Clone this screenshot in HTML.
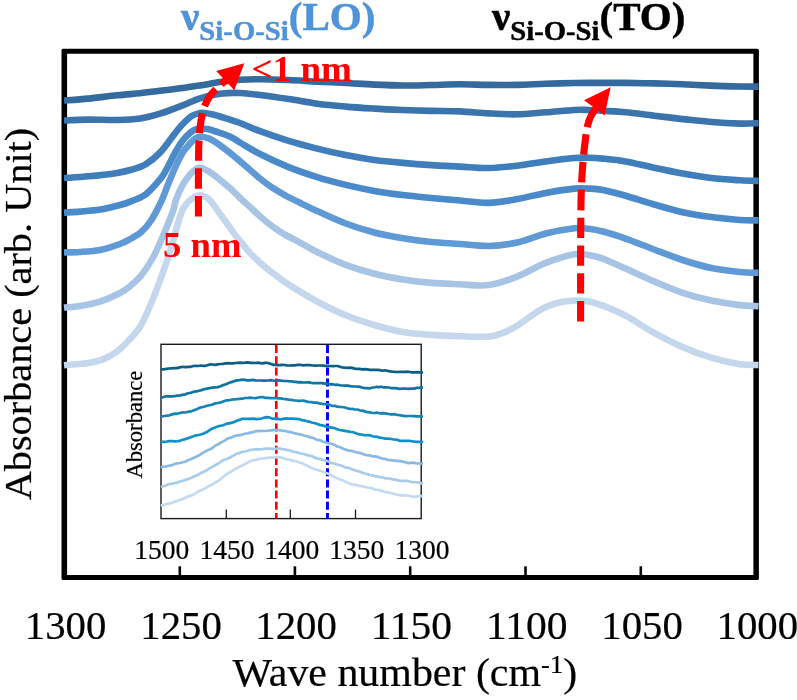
<!DOCTYPE html>
<html lang="en"><head><meta charset="utf-8"><title>FTIR absorbance</title>
<style>html,body{margin:0;padding:0;background:#fff}svg{display:block}text{font-family:"Liberation Serif","DejaVu Serif",serif;stroke-width:0.22px}</style></head><body>
<svg width="797" height="700" viewBox="0 0 797 700">
<rect width="797" height="700" fill="#fff"/>
<path d="M63,48.7 H757.4 Q758.9,48.7 758.9,50.2 V578.5 Q758.9,580 757.4,580 H63 Q61.5,580 61.5,578.5 V50.2 Q61.5,48.7 63,48.7 Z M67.1,53.8 V575 H753.4 V53.8 Z" fill="#000" fill-rule="evenodd"/>
<line x1="179.8" y1="577" x2="179.8" y2="566.3" stroke="#000" stroke-width="2.6"/>
<line x1="294.9" y1="577" x2="294.9" y2="566.3" stroke="#000" stroke-width="2.6"/>
<line x1="410.2" y1="577" x2="410.2" y2="566.3" stroke="#000" stroke-width="2.6"/>
<line x1="525.5" y1="577" x2="525.5" y2="566.3" stroke="#000" stroke-width="2.6"/>
<line x1="640.8" y1="577" x2="640.8" y2="566.3" stroke="#000" stroke-width="2.6"/>
<g>
<rect x="161" y="344.3" width="260.2" height="174.3" fill="none" stroke="#1a1a1a" stroke-width="1.4"/>
<line x1="226.3" y1="518.6" x2="226.3" y2="509.6" stroke="#1a1a1a" stroke-width="1.3"/>
<line x1="290.3" y1="518.6" x2="290.3" y2="509.6" stroke="#1a1a1a" stroke-width="1.3"/>
<line x1="355.5" y1="518.6" x2="355.5" y2="509.6" stroke="#1a1a1a" stroke-width="1.3"/>
<line x1="276.3" y1="345" x2="276.3" y2="518.6" stroke="#ff0000" stroke-width="2.6" stroke-dasharray="8 3.2"/>
<line x1="327.5" y1="345" x2="327.5" y2="518.6" stroke="#0000ff" stroke-width="3" stroke-dasharray="8 3.2"/>
<path d="M160.8,505.8 L162.3,505.2 L164.3,505.0 L166.8,504.0 L169.4,503.5 L172.2,502.7 L174.8,501.6 L177.1,501.1 L180.0,499.8 L182.7,499.0 L185.4,497.7 L188.0,496.5 L190.7,495.6 L193.4,494.7 L196.1,492.9 L198.8,491.2 L201.5,490.0 L204.2,488.9 L206.9,487.4 L209.6,485.7 L212.4,484.6 L215.1,482.5 L217.8,481.2 L220.5,479.1 L223.2,476.9 L226.0,474.7 L228.7,472.8 L231.4,471.5 L234.1,469.6 L236.8,468.2 L239.5,466.9 L242.2,465.4 L244.9,464.2 L247.6,462.6 L250.3,461.3 L253.1,460.3 L255.8,459.9 L258.5,459.1 L261.3,458.5 L264.2,458.3 L267.0,457.9 L269.6,457.6 L272.0,457.7 L274.7,457.5 L276.8,456.9 L280.2,457.4 L282.2,457.8 L284.6,458.7 L287.3,459.4 L290.2,459.7 L293.0,460.9 L295.7,461.1 L298.1,461.8 L300.0,462.7 L302.8,463.4 L304.2,464.5 L307.1,465.6 L309.0,466.7 L311.3,467.8 L313.8,468.7 L316.5,469.8 L319.3,470.4 L322.1,471.6 L324.9,472.6 L327.5,473.6 L330.0,474.5 L332.4,475.9 L334.8,477.3 L337.2,478.2 L339.7,479.4 L342.2,480.0 L344.9,481.4 L347.8,482.6 L350.0,483.7 L352.3,484.4 L354.7,484.7 L357.2,485.2 L359.7,486.1 L362.2,486.2 L364.8,487.0 L367.3,487.5 L369.9,487.9 L372.4,488.4 L374.9,489.5 L377.4,489.9 L379.9,490.4 L382.5,491.1 L385.0,492.1 L387.6,492.2 L390.1,492.8 L392.6,493.4 L395.0,494.3 L397.4,494.8 L399.8,495.3 L402.0,495.2 L405.1,495.5 L408.2,495.7 L411.2,496.3 L414.2,496.8 L416.9,496.4 L419.4,496.2 L421.4,496.2 L423.0,496.2" fill="none" stroke="#c2daf2" stroke-width="2.7" stroke-linejoin="round"/>
<path d="M160.8,486.8 L162.3,486.6 L164.3,485.9 L166.8,485.0 L169.4,483.9 L172.2,483.6 L174.8,483.0 L177.1,482.6 L180.0,481.5 L182.7,480.9 L185.4,479.7 L188.0,479.1 L190.7,478.1 L193.4,476.8 L196.1,475.6 L198.8,474.4 L201.5,472.7 L204.2,471.5 L206.9,470.2 L209.6,468.3 L212.4,466.9 L215.1,465.3 L217.8,463.9 L220.5,462.0 L223.2,460.2 L226.0,459.3 L228.7,458.2 L231.4,456.7 L234.1,455.1 L236.8,453.8 L239.5,452.9 L242.2,451.8 L244.9,451.5 L247.6,450.8 L250.3,449.9 L253.1,449.7 L255.8,449.2 L258.5,449.3 L261.2,449.3 L263.9,448.8 L266.6,448.7 L269.3,448.6 L272.0,448.8 L274.6,449.1 L277.1,448.5 L279.6,448.7 L282.4,449.2 L285.6,449.6 L287.6,450.2 L289.9,450.4 L292.2,451.4 L294.7,452.0 L297.2,452.3 L299.7,453.3 L302.2,453.8 L304.7,454.3 L307.1,455.1 L309.7,455.6 L312.3,456.3 L314.8,457.6 L317.4,458.5 L319.9,458.8 L322.4,460.0 L325.0,460.3 L327.5,461.1 L330.0,462.5 L332.4,463.3 L334.8,463.8 L337.2,464.5 L339.7,465.3 L342.2,465.9 L344.9,467.3 L347.8,467.7 L350.0,468.4 L352.3,469.4 L354.7,470.0 L357.2,471.2 L359.7,471.5 L362.2,472.7 L364.8,473.5 L367.3,474.1 L369.9,475.0 L372.4,475.3 L374.9,476.1 L377.4,476.7 L379.9,477.1 L382.5,477.5 L385.0,478.1 L387.6,478.4 L390.1,478.5 L392.6,479.4 L395.0,479.6 L397.4,480.1 L399.8,480.8 L402.0,480.8 L405.1,480.9 L408.2,481.2 L411.2,481.9 L414.2,482.2 L416.9,482.3 L419.4,482.6 L421.4,483.3 L423.0,483.1" fill="none" stroke="#a9cbec" stroke-width="2.7" stroke-linejoin="round"/>
<path d="M160.8,467.0 L162.3,466.9 L164.3,466.6 L166.8,466.3 L169.4,465.7 L172.2,465.2 L174.8,463.9 L177.1,463.3 L180.0,463.0 L182.7,462.3 L185.4,461.7 L188.0,460.2 L190.7,459.2 L193.4,457.9 L196.1,456.8 L198.8,455.5 L201.5,453.6 L204.2,452.1 L206.9,450.6 L209.6,449.5 L212.4,448.0 L215.1,445.8 L217.8,444.6 L220.5,442.7 L223.2,441.4 L226.0,439.7 L228.7,438.1 L231.4,437.6 L234.1,436.3 L236.8,435.3 L239.5,435.2 L242.2,434.7 L244.9,433.7 L247.7,433.4 L250.5,432.6 L253.3,432.1 L256.0,431.2 L258.5,431.2 L261.3,430.9 L263.7,431.0 L266.3,431.0 L269.3,430.5 L271.3,430.3 L273.4,430.1 L275.6,430.0 L278.0,430.0 L280.4,430.3 L283.0,430.9 L285.6,430.9 L287.8,431.7 L290.0,432.1 L292.4,432.5 L294.9,433.4 L297.3,433.9 L299.8,434.3 L302.3,434.9 L304.7,435.8 L307.1,436.0 L309.7,437.3 L312.3,437.6 L314.8,438.8 L317.4,439.9 L319.9,440.2 L322.4,441.5 L325.0,442.2 L327.5,443.1 L330.0,443.5 L332.4,444.1 L334.8,445.0 L337.2,446.5 L339.7,447.0 L342.2,448.2 L344.9,449.4 L347.8,450.4 L350.0,450.6 L352.3,451.0 L354.7,451.7 L357.2,452.6 L359.7,452.8 L362.2,453.7 L364.8,454.6 L367.3,455.3 L369.9,455.3 L372.4,456.4 L374.9,456.4 L377.4,456.9 L379.9,457.7 L382.5,458.6 L385.0,458.9 L387.6,459.8 L390.1,460.1 L392.6,460.4 L395.0,460.7 L397.4,460.9 L399.8,461.1 L402.0,461.4 L405.1,462.2 L408.2,463.1 L411.2,462.8 L414.2,462.7 L416.9,463.5 L419.4,463.5 L421.4,463.5 L423.0,463.4" fill="none" stroke="#8ab9e3" stroke-width="2.7" stroke-linejoin="round"/>
<path d="M160.8,442.3 L162.3,441.9 L164.3,441.8 L166.8,441.5 L169.4,441.1 L172.2,441.1 L174.8,441.4 L177.1,441.2 L180.0,440.8 L182.7,439.8 L185.4,439.1 L188.0,438.2 L190.7,437.2 L193.4,436.2 L196.1,435.3 L198.8,435.0 L201.5,434.2 L204.2,433.3 L206.9,432.1 L209.6,430.2 L212.4,428.5 L215.1,427.4 L217.8,426.4 L220.5,425.8 L223.2,425.2 L226.0,423.9 L228.7,423.4 L231.4,422.9 L234.1,422.0 L236.8,420.7 L239.5,419.9 L242.2,418.8 L244.9,418.8 L247.7,418.9 L250.6,418.8 L253.5,418.6 L256.1,419.1 L258.5,419.0 L261.6,418.5 L264.0,417.8 L266.6,417.1 L268.6,417.3 L270.6,418.0 L273.0,418.7 L276.1,418.9 L278.1,418.9 L280.6,419.3 L283.2,418.8 L285.9,418.4 L288.7,418.7 L291.4,418.5 L293.9,418.7 L296.0,418.8 L299.2,419.1 L301.5,420.1 L303.9,420.4 L307.1,421.3 L309.2,421.6 L311.5,422.5 L314.1,423.0 L316.7,423.7 L319.4,424.8 L322.2,425.3 L324.9,426.1 L327.5,427.2 L330.0,427.3 L332.4,427.6 L334.8,428.2 L337.2,429.3 L339.7,430.0 L342.2,430.3 L344.9,430.8 L347.8,431.3 L350.0,431.9 L352.3,432.0 L354.7,432.8 L357.2,433.7 L359.7,434.4 L362.2,434.7 L364.8,435.3 L367.3,435.0 L369.9,435.3 L372.4,436.2 L374.9,436.7 L377.4,436.9 L379.9,437.7 L382.5,438.0 L385.0,438.6 L387.6,438.7 L390.1,438.8 L392.6,439.3 L395.0,439.5 L397.4,439.9 L399.8,440.8 L402.0,440.9 L405.1,440.8 L408.2,440.8 L411.2,441.0 L414.2,441.7 L416.9,441.8 L419.4,441.8 L421.4,441.6 L423.0,442.3" fill="none" stroke="#0f8fcb" stroke-width="2.7" stroke-linejoin="round"/>
<path d="M160.8,416.6 L162.3,416.4 L164.3,416.0 L166.8,415.7 L169.4,415.3 L172.2,414.4 L174.8,413.6 L177.1,413.8 L180.0,413.0 L182.7,412.4 L185.4,412.5 L188.0,411.8 L190.7,411.4 L193.4,410.4 L196.1,409.5 L198.8,408.1 L201.5,407.3 L204.2,406.7 L206.9,405.8 L209.6,405.2 L212.4,404.6 L215.1,403.4 L217.8,403.0 L220.5,402.4 L223.2,401.4 L226.0,400.4 L228.7,400.3 L231.4,399.7 L234.1,399.4 L236.8,399.2 L239.5,398.8 L242.2,398.7 L244.9,398.0 L247.5,398.0 L250.1,397.7 L252.8,398.0 L255.5,398.1 L258.5,397.5 L260.7,397.2 L263.1,397.2 L265.4,397.9 L267.9,397.9 L270.5,398.1 L273.2,398.0 L276.1,398.2 L278.3,398.3 L280.7,398.4 L283.3,398.8 L286.0,399.1 L288.7,399.6 L291.3,399.8 L293.9,400.3 L296.2,400.5 L298.3,400.8 L300.0,400.8 L303.1,400.5 L304.4,400.9 L307.1,401.6 L309.0,402.0 L311.3,402.1 L313.8,402.6 L316.5,402.6 L319.3,403.4 L322.1,403.9 L324.9,404.1 L327.5,404.2 L330.0,405.1 L332.4,406.0 L334.8,405.8 L337.2,406.6 L339.7,406.9 L342.2,407.0 L344.9,407.5 L347.8,408.4 L350.0,409.0 L352.3,408.9 L354.7,409.5 L357.2,409.5 L359.7,410.3 L362.2,410.6 L364.8,411.4 L367.3,412.2 L369.9,412.3 L372.4,413.0 L374.9,412.9 L377.4,412.7 L379.9,413.3 L382.5,413.1 L385.0,413.4 L387.6,413.8 L390.1,414.3 L392.6,414.3 L395.0,414.2 L397.4,415.0 L399.8,415.1 L402.0,415.7 L405.1,416.1 L408.2,416.0 L411.2,416.0 L414.2,416.1 L416.9,416.3 L419.4,416.4 L421.4,416.4 L423.0,416.5" fill="none" stroke="#1683b8" stroke-width="2.7" stroke-linejoin="round"/>
<path d="M160.8,397.4 L162.3,397.5 L164.3,396.7 L166.8,396.2 L169.4,396.4 L172.2,396.4 L174.8,396.2 L177.1,395.6 L180.0,395.3 L182.7,394.8 L185.4,394.3 L188.0,393.3 L190.7,392.7 L193.4,391.9 L196.1,391.3 L198.8,390.8 L201.5,390.1 L204.2,389.2 L206.9,388.6 L209.6,388.2 L212.4,387.7 L215.1,387.3 L217.8,387.1 L220.5,386.2 L223.2,385.1 L226.0,384.3 L228.7,383.1 L231.4,382.1 L234.1,381.2 L236.8,380.4 L239.5,380.1 L242.2,379.7 L244.9,379.8 L247.5,380.3 L250.1,380.3 L252.8,379.9 L255.5,380.4 L258.5,380.5 L260.7,380.5 L263.1,380.7 L265.4,380.6 L267.9,380.5 L270.5,380.1 L273.2,380.5 L276.1,380.8 L278.3,380.3 L280.7,380.7 L283.3,380.9 L286.0,381.0 L288.7,381.2 L291.3,381.3 L293.9,381.9 L296.2,381.9 L298.3,382.3 L300.0,382.1 L303.1,382.5 L304.4,382.5 L307.1,382.3 L309.0,382.4 L311.3,382.8 L313.8,383.1 L316.5,383.1 L319.3,383.0 L322.1,383.2 L324.9,383.7 L327.5,383.6 L330.0,384.3 L332.5,384.2 L335.1,384.8 L337.6,384.7 L340.1,385.3 L342.6,385.5 L345.2,385.6 L347.8,385.7 L350.2,386.1 L352.8,386.4 L355.5,386.5 L358.2,386.7 L360.9,387.2 L363.4,388.0 L365.7,388.2 L367.8,388.0 L369.5,388.5 L371.9,387.8 L374.9,387.2 L376.6,386.8 L378.6,387.1 L380.9,386.8 L383.4,387.3 L386.1,387.4 L388.9,387.5 L391.7,388.2 L394.5,388.1 L397.2,388.4 L399.7,389.0 L402.0,388.7 L405.1,388.5 L408.2,388.9 L411.2,388.6 L414.2,388.6 L416.9,387.9 L419.4,387.8 L421.4,387.4 L423.0,387.7" fill="none" stroke="#0e74a2" stroke-width="2.7" stroke-linejoin="round"/>
<path d="M160.8,369.0 L162.3,369.3 L164.1,369.3 L166.2,368.8 L168.7,368.5 L171.3,368.3 L174.1,368.2 L176.9,368.1 L179.8,367.4 L182.7,366.8 L185.5,367.1 L188.2,366.8 L190.7,366.8 L193.3,366.0 L195.8,365.9 L198.3,366.0 L200.8,365.5 L203.2,365.8 L205.6,365.8 L208.1,365.0 L210.5,364.4 L212.9,364.5 L215.3,364.8 L217.8,364.4 L220.3,364.0 L222.8,363.9 L225.3,363.4 L227.9,363.2 L230.4,363.3 L232.9,363.3 L235.4,363.0 L237.9,362.8 L240.3,362.7 L242.6,362.8 L244.9,362.6 L247.6,362.3 L250.3,362.8 L253.0,362.9 L255.6,363.0 L258.1,362.6 L260.5,363.2 L262.7,363.4 L264.8,362.9 L266.6,362.8 L269.5,363.4 L271.2,364.0 L273.0,364.8 L276.1,364.8 L277.9,365.1 L279.9,365.2 L282.1,364.9 L284.5,365.0 L286.9,365.4 L289.5,365.5 L292.1,365.3 L294.8,365.3 L297.4,364.9 L300.0,364.8 L302.4,365.3 L304.9,365.2 L307.4,365.0 L310.0,365.2 L312.7,365.5 L315.3,365.7 L317.9,365.5 L320.4,365.5 L322.9,365.6 L325.3,365.9 L327.5,366.0 L330.3,366.0 L332.9,366.2 L335.3,366.0 L337.7,366.0 L340.0,366.7 L342.4,367.5 L345.0,367.7 L347.8,367.8 L350.0,367.6 L352.3,367.9 L354.7,368.6 L357.2,368.9 L359.7,368.9 L362.2,369.3 L364.8,369.1 L367.3,369.3 L369.9,369.8 L372.4,369.9 L374.9,369.9 L377.4,369.8 L379.9,370.1 L382.5,370.8 L385.0,370.3 L387.6,370.9 L390.1,371.3 L392.6,371.6 L395.0,371.8 L397.4,372.0 L399.8,371.9 L402.0,371.9 L405.1,371.9 L408.2,371.7 L411.2,372.3 L414.2,372.4 L416.9,372.2 L419.4,372.4 L421.4,372.5 L423.0,372.4" fill="none" stroke="#0b5e86" stroke-width="2.7" stroke-linejoin="round"/>
</g>
<path d="M64.0,365.2 C68.1,364.8 82.1,363.9 88.6,362.9 C95.1,361.9 98.2,361.3 102.9,359.4 C107.7,357.5 112.7,354.6 117.1,351.4 C121.5,348.2 125.1,344.2 129.0,340.0 C132.9,335.8 136.9,332.0 140.5,326.0 C144.1,320.0 147.5,312.0 150.9,304.0 C154.3,296.0 157.7,287.3 161.0,278.0 C164.3,268.7 168.0,257.7 171.0,248.0 C174.0,238.3 177.0,226.5 179.0,220.0 C181.0,213.5 181.5,212.0 183.0,209.0 C184.5,206.0 186.1,204.1 188.1,202.0 C190.1,199.9 192.7,197.7 194.7,196.6 C196.7,195.5 198.4,195.3 200.0,195.3 C201.6,195.3 202.9,195.9 204.3,196.5 C205.7,197.1 206.9,197.5 208.6,199.0 C210.3,200.5 212.2,202.9 214.3,205.7 C216.4,208.5 219.0,212.4 221.4,215.7 C223.8,219.0 226.2,222.4 228.6,225.7 C231.0,229.0 233.3,232.6 235.7,235.7 C238.1,238.8 240.5,241.4 242.9,244.3 C245.3,247.2 247.6,250.3 250.0,252.9 C252.4,255.5 254.7,257.8 257.1,260.0 C259.5,262.2 261.9,264.4 264.3,266.4 C266.7,268.4 269.0,270.3 271.4,272.1 C273.8,273.9 275.7,275.2 278.6,277.3 C281.5,279.4 282.2,280.5 288.6,284.5 C295.0,288.5 307.6,296.4 317.1,301.5 C326.6,306.6 336.2,311.4 345.7,315.3 C355.2,319.2 364.8,322.2 374.3,325.0 C383.8,327.8 393.4,330.4 402.9,332.0 C412.4,333.6 421.9,334.2 431.4,334.9 C440.9,335.6 450.5,335.9 460.0,336.2 C469.5,336.5 481.5,337.2 488.6,336.6 C495.8,336.1 498.1,334.7 502.9,332.9 C507.6,331.1 512.4,328.6 517.1,325.7 C521.9,322.8 526.6,318.8 531.4,315.7 C536.2,312.6 540.9,309.3 545.7,307.1 C550.5,304.9 555.2,303.4 560.0,302.3 C564.8,301.2 569.5,300.8 574.3,300.6 C579.1,300.5 583.8,300.5 588.6,301.4 C593.4,302.2 596.7,303.3 602.9,305.7 C609.1,308.1 617.1,311.2 625.6,315.7 C634.1,320.2 644.6,327.7 654.1,332.9 C663.6,338.1 673.2,343.0 682.7,347.1 C692.2,351.2 701.8,354.8 711.3,357.7 C720.8,360.6 732.0,363.1 739.9,364.3 C747.8,365.5 755.4,364.9 758.5,365.0" fill="none" stroke="#c5d7ed" stroke-width="6.6" stroke-linejoin="round"/>
<path d="M64.0,307.6 C66.7,307.3 74.0,307.0 80.0,306.0 C86.0,305.0 93.3,303.8 100.0,301.6 C106.7,299.4 115.0,295.6 120.0,293.0 C125.0,290.4 126.7,289.0 130.2,286.0 C133.8,283.0 137.8,279.7 141.5,275.0 C145.2,270.3 149.2,264.5 152.8,258.0 C156.3,251.5 159.6,243.8 163.0,236.0 C166.4,228.2 170.8,217.0 173.0,211.0 C175.2,205.0 174.2,204.4 175.9,200.0 C177.6,195.6 180.6,188.6 183.0,184.3 C185.4,180.0 188.0,176.8 190.1,174.3 C192.2,171.8 194.1,170.4 195.6,169.3 C197.0,168.2 197.5,168.0 198.7,167.9 C199.9,167.8 201.4,167.9 203.0,168.5 C204.6,169.1 206.5,170.1 208.6,171.4 C210.7,172.7 212.4,173.8 215.7,176.4 C219.0,179.0 225.3,184.2 228.6,187.1 C231.9,190.0 233.3,191.3 235.7,193.6 C238.1,195.9 240.5,198.4 242.9,200.7 C245.3,202.9 247.6,204.9 250.0,207.1 C252.4,209.2 254.7,211.4 257.1,213.6 C259.5,215.8 261.9,218.0 264.3,220.0 C266.7,222.0 269.0,223.9 271.4,225.7 C273.8,227.5 276.2,229.1 278.6,230.7 C281.0,232.2 282.1,233.0 285.7,235.0 C289.3,237.0 294.8,239.8 300.0,242.6 C305.2,245.4 309.5,248.3 317.1,252.0 C324.7,255.7 336.2,261.2 345.7,264.8 C355.2,268.4 364.8,271.3 374.3,273.7 C383.8,276.1 393.4,277.9 402.9,279.4 C412.4,280.9 421.9,282.1 431.4,282.9 C440.9,283.7 450.5,283.9 460.0,284.3 C469.5,284.7 479.1,286.4 488.6,285.1 C498.1,283.8 507.6,280.3 517.1,276.6 C526.6,272.9 536.2,266.6 545.7,262.9 C555.2,259.2 567.1,255.6 574.3,254.3 C581.4,253.0 583.8,254.2 588.6,254.9 C593.4,255.6 596.7,256.3 602.9,258.6 C609.1,260.9 617.1,264.8 625.6,268.6 C634.1,272.4 644.6,277.3 654.1,281.4 C663.6,285.4 673.2,289.7 682.7,292.9 C692.2,296.1 701.8,298.6 711.3,300.6 C720.8,302.6 732.0,304.2 739.9,305.1 C747.8,306.0 755.4,306.0 758.5,306.2" fill="none" stroke="#a8c4e5" stroke-width="6.6" stroke-linejoin="round"/>
<path d="M64.0,252.5 C66.7,252.4 74.0,252.4 80.0,252.0 C86.0,251.6 93.3,251.3 100.0,250.0 C106.7,248.7 115.0,245.8 120.0,244.0 C125.0,242.2 126.7,241.0 130.2,239.0 C133.7,237.0 137.8,235.0 141.2,232.0 C144.6,229.0 147.4,226.0 150.7,221.0 C154.0,216.0 158.1,208.1 161.0,202.0 C163.9,195.9 165.7,190.1 168.1,184.3 C170.5,178.5 172.9,172.3 175.3,167.1 C177.7,161.9 180.0,156.8 182.4,152.9 C184.8,149.1 187.3,146.4 189.5,144.0 C191.7,141.6 193.4,139.8 195.3,138.6 C197.2,137.4 198.8,136.7 201.0,136.7 C203.2,136.7 206.2,137.5 208.6,138.4 C211.0,139.3 212.1,139.8 215.7,142.2 C219.3,144.6 225.1,149.0 230.0,152.9 C234.9,156.8 240.0,161.2 245.0,165.5 C250.0,169.8 255.6,174.9 260.0,178.5 C264.4,182.1 267.1,184.2 271.4,187.1 C275.7,190.0 280.9,193.1 285.7,195.7 C290.5,198.3 294.8,200.2 300.0,202.8 C305.2,205.4 309.5,207.6 317.1,211.0 C324.7,214.4 336.2,219.9 345.7,223.5 C355.2,227.1 364.8,230.0 374.3,232.5 C383.8,235.0 393.4,236.7 402.9,238.3 C412.4,239.9 421.9,241.1 431.4,242.0 C440.9,242.9 450.5,243.3 460.0,244.0 C469.5,244.7 479.1,246.2 488.6,246.0 C498.1,245.8 507.6,244.6 517.1,242.5 C526.6,240.4 536.2,235.9 545.7,233.5 C555.2,231.1 567.1,229.0 574.3,228.2 C581.4,227.4 583.8,228.2 588.6,228.8 C593.4,229.4 596.7,229.9 602.9,231.5 C609.1,233.1 617.1,235.6 625.6,238.6 C634.1,241.6 644.6,245.9 654.1,249.5 C663.6,253.1 673.2,256.9 682.7,260.0 C692.2,263.1 701.8,266.0 711.3,268.0 C720.8,270.0 732.0,271.2 739.9,272.0 C747.8,272.8 755.4,272.7 758.5,272.8" fill="none" stroke="#5f9ad6" stroke-width="6.6" stroke-linejoin="round"/>
<path d="M64.0,212.6 C66.7,212.4 74.0,212.1 80.0,211.6 C86.0,211.1 93.3,210.7 100.0,209.6 C106.7,208.5 115.0,206.3 120.0,205.0 C125.0,203.7 125.9,203.4 130.2,201.6 C134.4,199.8 140.6,198.1 145.7,194.3 C150.7,190.5 156.9,183.1 160.6,178.6 C164.3,174.1 165.3,171.4 167.7,167.1 C170.1,162.8 172.5,157.2 174.9,152.9 C177.3,148.6 179.6,144.6 182.0,141.4 C184.4,138.2 186.9,135.8 189.1,133.8 C191.3,131.8 193.3,130.5 195.2,129.6 C197.1,128.7 198.3,128.6 200.5,128.5 C202.7,128.4 206.1,128.8 208.6,129.3 C211.1,129.8 212.1,130.3 215.7,131.5 C219.3,132.7 225.9,134.7 230.0,136.5 C234.1,138.3 235.0,139.6 240.0,142.5 C245.0,145.4 251.9,149.9 260.0,154.0 C268.1,158.1 279.1,163.2 288.6,167.1 C298.1,170.9 307.6,174.1 317.1,177.1 C326.6,180.1 336.2,182.6 345.7,184.9 C355.2,187.2 364.8,189.2 374.3,190.9 C383.8,192.6 393.4,193.9 402.9,195.1 C412.4,196.3 421.9,197.1 431.4,198.0 C440.9,198.9 450.5,199.7 460.0,200.5 C469.5,201.3 479.1,203.1 488.6,202.9 C498.1,202.7 507.6,200.8 517.1,199.1 C526.6,197.4 536.2,194.7 545.7,192.9 C555.2,191.2 567.1,189.3 574.3,188.6 C581.4,187.9 583.8,188.4 588.6,188.6 C593.4,188.8 596.7,188.8 602.9,190.0 C609.1,191.2 617.1,193.3 625.6,195.7 C634.1,198.1 644.6,201.8 654.1,204.5 C663.6,207.2 673.2,210.1 682.7,212.2 C692.2,214.3 701.8,215.8 711.3,217.1 C720.8,218.4 732.0,219.4 739.9,220.0 C747.8,220.6 755.4,220.3 758.5,220.4" fill="none" stroke="#4a8acb" stroke-width="6.6" stroke-linejoin="round"/>
<path d="M64.0,178.0 C68.1,177.7 79.8,177.2 88.6,176.3 C97.4,175.5 110.2,174.0 117.1,172.9 C124.0,171.8 125.4,171.4 130.2,170.0 C134.9,168.6 140.5,167.3 145.6,164.3 C150.6,161.3 155.6,157.2 160.5,152.1 C165.4,147.0 171.2,138.1 174.8,133.6 C178.4,129.1 179.1,127.9 181.9,125.0 C184.7,122.1 188.5,118.0 191.6,116.0 C194.6,114.0 197.6,113.5 200.0,113.0 C202.4,112.5 204.0,113.0 206.0,113.2 C208.0,113.4 209.7,113.7 212.0,114.2 C214.3,114.8 215.3,115.0 220.0,116.5 C224.7,118.0 233.3,120.5 240.0,123.0 C246.7,125.5 251.9,128.2 260.0,131.2 C268.1,134.2 279.1,138.0 288.6,140.9 C298.1,143.8 307.6,146.2 317.1,148.6 C326.6,151.0 336.2,153.2 345.7,155.1 C355.2,157.0 364.8,158.7 374.3,160.0 C383.8,161.3 393.4,162.1 402.9,162.9 C412.4,163.8 421.9,164.5 431.4,165.1 C440.9,165.7 450.5,166.1 460.0,166.6 C469.5,167.1 479.1,168.2 488.6,168.0 C498.1,167.8 507.6,166.8 517.1,165.7 C526.6,164.6 536.2,162.7 545.7,161.4 C555.2,160.1 567.1,158.6 574.3,158.0 C581.4,157.4 583.8,157.6 588.6,157.7 C593.4,157.8 596.7,158.0 602.9,158.6 C609.1,159.2 617.1,159.9 625.6,161.4 C634.1,162.9 644.6,165.7 654.1,167.7 C663.6,169.7 673.2,171.7 682.7,173.4 C692.2,175.1 701.8,176.8 711.3,178.0 C720.8,179.2 732.0,179.8 739.9,180.3 C747.8,180.8 755.4,180.8 758.5,180.9" fill="none" stroke="#3f7dbb" stroke-width="6.6" stroke-linejoin="round"/>
<path d="M64.0,120.5 C68.1,120.3 79.8,119.7 88.6,119.6 C97.4,119.5 108.5,120.2 117.1,120.0 C125.7,119.8 132.8,119.6 140.0,118.5 C147.2,117.4 153.3,115.6 160.0,113.6 C166.7,111.6 173.3,109.0 180.0,106.4 C186.7,103.9 193.3,100.4 200.0,98.3 C206.7,96.2 213.3,94.7 220.0,93.8 C226.7,92.9 233.3,92.8 240.0,93.0 C246.7,93.2 251.9,94.0 260.0,95.0 C268.1,96.0 279.1,97.6 288.6,99.1 C298.1,100.5 307.6,102.5 317.1,103.7 C326.6,105.0 336.2,105.8 345.7,106.6 C355.2,107.4 364.8,108.0 374.3,108.6 C383.8,109.2 393.4,109.6 402.9,110.0 C412.4,110.4 421.9,110.7 431.4,110.9 C440.9,111.1 450.5,111.0 460.0,111.4 C469.5,111.8 479.1,112.9 488.6,113.4 C498.1,113.9 507.6,114.5 517.1,114.3 C526.6,114.1 536.2,113.0 545.7,112.3 C555.2,111.6 567.1,110.4 574.3,110.0 C581.4,109.6 583.8,109.9 588.6,110.0 C593.4,110.1 596.7,110.4 602.9,110.8 C609.1,111.2 617.1,111.5 625.6,112.3 C634.1,113.1 644.6,114.6 654.1,115.7 C663.6,116.8 673.2,118.0 682.7,119.1 C692.2,120.1 701.8,121.2 711.3,122.0 C720.8,122.8 732.0,123.4 739.9,123.6 C747.8,123.8 755.4,123.3 758.5,123.2" fill="none" stroke="#3b74ad" stroke-width="6.6" stroke-linejoin="round"/>
<path d="M64.0,100.5 C68.1,100.2 79.8,99.5 88.6,98.6 C97.4,97.7 108.5,96.2 117.1,95.3 C125.7,94.4 132.8,94.0 140.0,93.3 C147.2,92.5 153.3,91.6 160.0,90.8 C166.7,90.0 173.3,89.2 180.0,88.3 C186.7,87.4 193.3,86.6 200.0,85.6 C206.7,84.5 213.3,83.0 220.0,82.0 C226.7,81.0 233.3,80.3 240.0,79.8 C246.7,79.3 251.9,79.2 260.0,79.2 C268.1,79.2 279.1,79.6 288.6,80.0 C298.1,80.4 307.6,81.1 317.1,81.6 C326.6,82.1 336.2,82.5 345.7,83.0 C355.2,83.5 364.8,84.2 374.3,84.6 C383.8,85.0 393.4,85.4 402.9,85.5 C412.4,85.6 421.9,85.2 431.4,85.0 C440.9,84.8 450.5,84.3 460.0,84.3 C469.5,84.3 479.1,84.8 488.6,84.9 C498.1,85.0 507.6,85.1 517.1,84.9 C526.6,84.7 536.2,84.1 545.7,83.8 C555.2,83.5 564.8,83.2 574.3,83.0 C583.8,82.8 594.3,82.9 602.9,82.9 C611.5,82.9 617.1,82.8 625.6,82.9 C634.1,83.0 644.6,83.2 654.1,83.4 C663.6,83.6 673.2,83.9 682.7,84.3 C692.2,84.7 701.8,85.2 711.3,85.6 C720.8,86.0 732.0,86.3 739.9,86.5 C747.8,86.7 755.4,86.6 758.5,86.6" fill="none" stroke="#356a9e" stroke-width="6.6" stroke-linejoin="round"/>
<path d="M198.4,216.4 C198.4,212.0 198.4,198.6 198.4,190.0 C198.4,181.4 198.4,172.5 198.5,165.0 C198.6,157.5 198.6,151.2 198.8,145.0 C199.1,138.8 199.4,133.3 200.0,128.0 C200.6,122.7 201.6,117.0 202.5,113.0 C203.4,109.0 204.2,106.8 205.5,104.0 C206.8,101.2 208.2,98.5 210.0,96.0 C211.8,93.5 214.0,91.1 216.0,89.0 C218.0,86.9 220.0,85.2 222.0,83.5 C224.0,81.8 227.0,79.3 228.0,78.5" fill="none" stroke="#ff0000" stroke-width="7.1" stroke-dasharray="20.4 7.3"/>
<polygon points="216.2,71 234.3,90.3 244.3,63.3" fill="#ff0000"/>
<path d="M580.6,321.4 C580.6,316.2 580.6,300.2 580.6,290.0 C580.6,279.8 580.6,270.0 580.6,260.0 C580.6,250.0 580.7,238.5 580.7,230.0 C580.8,221.5 580.8,216.8 580.9,209.0 C581.0,201.2 581.2,191.5 581.6,183.0 C582.0,174.5 582.6,165.9 583.3,158.0 C584.0,150.1 585.2,140.8 585.9,135.5 C586.6,130.2 586.7,129.1 587.5,126.0 C588.3,122.9 589.2,119.8 590.5,117.0 C591.8,114.2 593.8,111.3 595.0,109.5 C596.2,107.7 597.5,106.6 598.0,106.0" fill="none" stroke="#ff0000" stroke-width="7.1" stroke-dasharray="20.4 7.4"/>
<polygon points="584,100.3 604.6,115.6 610.7,87.3" fill="#ff0000"/>
<text x="163.1" y="257.4" font-size="35.5" font-weight="bold" fill="#ff0000" textLength="78.5" lengthAdjust="spacingAndGlyphs">5 nm</text>
<text x="251.5" y="81" font-size="36" font-weight="bold" fill="#ff0000" textLength="100.5" lengthAdjust="spacingAndGlyphs">&lt;1 nm</text>
<text x="181" y="30.1" font-size="40.5" font-weight="bold" fill="#4f93d8" stroke="#4f93d8" style="stroke-width:0.45px" textLength="194.5" lengthAdjust="spacingAndGlyphs">ν<tspan font-size="28.3" dy="9.5">Si-O-Si</tspan><tspan dy="-9.5">(LO)</tspan></text>
<text x="492" y="30.1" font-size="40.5" font-weight="bold" fill="#000" stroke="#000" style="stroke-width:0.45px" textLength="193.3" lengthAdjust="spacingAndGlyphs">ν<tspan font-size="28.3" dy="9.5">Si-O-Si</tspan><tspan dy="-9.5">(TO)</tspan></text>
<text x="65.5" y="638.7" font-size="39.5" text-anchor="middle" fill="#000" stroke="#000" textLength="81.5" lengthAdjust="spacingAndGlyphs">1300</text>
<text x="181.0" y="638.7" font-size="39.5" text-anchor="middle" fill="#000" stroke="#000" textLength="81.5" lengthAdjust="spacingAndGlyphs">1250</text>
<text x="296.1" y="638.7" font-size="39.5" text-anchor="middle" fill="#000" stroke="#000" textLength="81.5" lengthAdjust="spacingAndGlyphs">1200</text>
<text x="411.4" y="638.7" font-size="39.5" text-anchor="middle" fill="#000" stroke="#000" textLength="81.5" lengthAdjust="spacingAndGlyphs">1150</text>
<text x="526.7" y="638.7" font-size="39.5" text-anchor="middle" fill="#000" stroke="#000" textLength="81.5" lengthAdjust="spacingAndGlyphs">1100</text>
<text x="642.0" y="638.7" font-size="39.5" text-anchor="middle" fill="#000" stroke="#000" textLength="81.5" lengthAdjust="spacingAndGlyphs">1050</text>
<text x="757.3" y="638.7" font-size="39.5" text-anchor="middle" fill="#000" stroke="#000" textLength="81.5" lengthAdjust="spacingAndGlyphs">1000</text>
<text x="232.6" y="686.3" font-size="39.5" fill="#000" stroke="#000" textLength="344.5" lengthAdjust="spacingAndGlyphs">Wave number (cm<tspan font-size="25" dy="-13.5">-1</tspan><tspan dy="13.5">)</tspan></text>
<text transform="translate(30.8,500.3) rotate(-90)" font-size="38.5" fill="#000" stroke="#000" textLength="372.5" lengthAdjust="spacingAndGlyphs">Absorbance (arb. Unit)</text>
<text transform="translate(142,478.6) rotate(-90)" font-size="22.6" fill="#000" stroke="#000">Absorbance</text>
<text x="161.8" y="559" font-size="27.5" text-anchor="middle" fill="#000" stroke="#000">1500</text>
<text x="227.1" y="559" font-size="27.5" text-anchor="middle" fill="#000" stroke="#000">1450</text>
<text x="291.8" y="559" font-size="27.5" text-anchor="middle" fill="#000" stroke="#000">1400</text>
<text x="356.8" y="559" font-size="27.5" text-anchor="middle" fill="#000" stroke="#000">1350</text>
<text x="422.0" y="559" font-size="27.5" text-anchor="middle" fill="#000" stroke="#000">1300</text>
</svg></body></html>
